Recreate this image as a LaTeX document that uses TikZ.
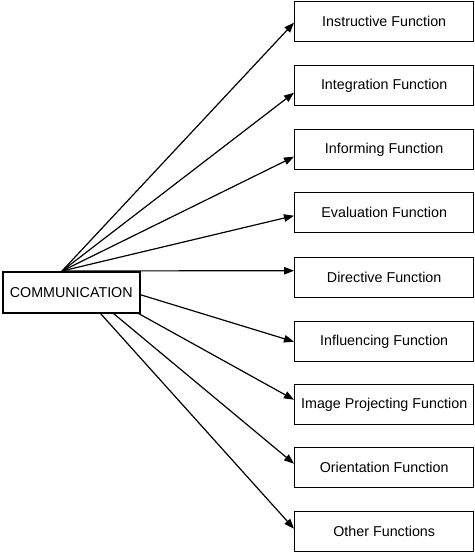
\documentclass[tikz,border=0pt]{standalone}
\usepackage{fontspec}
\setmainfont{Liberation Sans}
\usetikzlibrary{arrows.meta}
\begin{document}
\begin{tikzpicture}[x=1pt,y=-1pt,
  fbox/.style={draw, line width=1.4pt, minimum width=179pt, minimum height=40pt, anchor=north west, inner sep=0pt, font=\fontsize{14.3}{17}\selectfont},
  cbox/.style={draw, line width=1.5pt, minimum width=137pt, minimum height=41pt, anchor=north west, inner sep=0pt, font=\fontsize{14.3}{17}\selectfont},
  arr/.style={-{Triangle[length=10pt,width=7.5pt]}, line width=1.2pt}]
\useasboundingbox (0,0) rectangle (474,553);
\node[cbox] (c) at (2,271) {COMMUNICATION};
\node[fbox] (f1) at (294,1) {Instructive Function};
\node[fbox] (f2) at (294,65) {Integration Function};
\node[fbox] (f3) at (294,129) {Informing Function};
\node[fbox] (f4) at (294,192) {Evaluation Function};
\node[fbox] (f5) at (294,257) {Directive Function};
\node[fbox] (f6) at (294,321) {Influencing Function};
\node[fbox] (f7) at (294,384) {Image Projecting Function};
\node[fbox] (f8) at (294,447) {Orientation Function};
\node[fbox] (f9) at (294,511) {Other Functions};
\coordinate (o) at ([xshift=60pt]c.north west);
\coordinate (r) at ([yshift=-2.5pt]c.east);
\coordinate (b1) at ([xshift=-2pt]c.south east);
\coordinate (b2) at ([xshift=-27pt]c.south east);
\coordinate (b3) at ([xshift=-40pt]c.south east);
\draw[arr] (o) -- ([yshift=-1pt]f1.west);
\draw[arr] (o) -- ([yshift=-7pt]f2.west);
\draw[arr] (o) -- ([yshift=-7pt]f3.west);
\draw[arr] (o) -- ([yshift=-3pt]f4.west);
\draw[arr] (o) -- ([yshift=7pt]f5.west);
\draw[arr] (r) -- (f6.west);
\draw[arr] (b1) -- ([yshift=5pt]f7.west);
\draw[arr] (b2) -- ([yshift=4pt]f8.west);
\draw[arr] (b3) -- ([yshift=3pt]f9.west);
\end{tikzpicture}
\end{document}
